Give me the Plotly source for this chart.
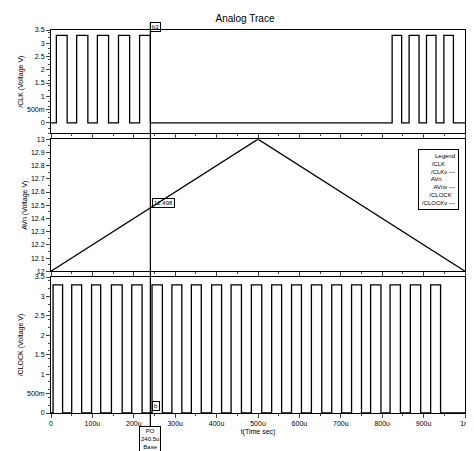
import plotly.graph_objects as go
from plotly.subplots import make_subplots

# Data (time in seconds)
clk_rise = [13e-6, 62e-6, 112e-6, 163e-6, 214e-6, 824e-6, 865e-6, 907e-6, 949e-6]
clk_fall = [39e-6, 89e-6, 139e-6, 190e-6, 240e-6, 847e-6, 889e-6, 930e-6, 972e-6]
clock_rise = [5e-6, 50e-6, 98e-6, 146e-6, 195e-6, 244e-6, 292e-6, 339e-6, 388e-6, 435e-6,
              484e-6, 533e-6, 581e-6, 629e-6, 678e-6, 726e-6, 772e-6, 819e-6, 868e-6, 917e-6]
clock_fall = [28e-6, 74e-6, 120e-6, 172e-6, 220e-6, 269e-6, 316e-6, 363e-6, 412e-6, 460e-6,
              509e-6, 557e-6, 605e-6, 654e-6, 702e-6, 750e-6, 797e-6, 844e-6, 893e-6, 941e-6]
vn_t = [0, 500e-6, 1e-3]
vn_v = [12.0, 13.0, 12.0]
high = 3.3
cursor_t = 240e-6

x_ticks = [0, 100e-6, 200e-6, 300e-6, 400e-6, 500e-6, 600e-6, 700e-6, 800e-6, 900e-6, 1e-3]
x_labels = ["0", "100u", "200u", "300u", "400u", "500u", "600u", "700u", "800u", "900u", "1m"]


def steps(rises, falls, level):
    xs, ys = [0], [0]
    for r, f in zip(rises, falls):
        xs += [r, r, f, f]
        ys += [0, level, level, 0]
    xs.append(1e-3)
    ys.append(0)
    return xs, ys


fig = make_subplots(rows=3, cols=1, shared_xaxes=True, vertical_spacing=0.01)
line = dict(color="black", width=1.3)

x1, y1 = steps(clk_rise, clk_fall, high)
fig.add_trace(go.Scatter(x=x1, y=y1, mode="lines", line=line), row=1, col=1)
fig.add_trace(go.Scatter(x=vn_t, y=vn_v, mode="lines", line=line), row=2, col=1)
x3, y3 = steps(clock_rise, clock_fall, high)
fig.add_trace(go.Scatter(x=x3, y=y3, mode="lines", line=line), row=3, col=1)

axis_font = dict(family="Liberation Sans", size=7, color="black")
for r in (1, 2, 3):
    fig.update_xaxes(range=[0, 1e-3], tickvals=x_ticks, ticktext=x_labels, showgrid=False,
                     zeroline=False, showline=True, linecolor="black", mirror=True,
                     ticks="outside", ticklen=4, minor=dict(ticks="outside", ticklen=2, nticks=5),
                     tickfont=axis_font, showticklabels=(r == 3), row=r, col=1)
fig.update_xaxes(title=dict(text="t(Time sec)", font=axis_font, standoff=2), row=3, col=1)

yk = dict(showgrid=False, zeroline=False, showline=True, linecolor="black", mirror=True,
          ticks="outside", ticklen=4, minor=dict(ticks="outside", ticklen=2, nticks=5),
          tickfont=axis_font)
fig.update_yaxes(range=[-0.4, 3.5], tickvals=[-0.5, 0, 0.5, 1, 1.5, 2, 2.5, 3, 3.5],
                 ticktext=["-500m", "0", "500m", "1", "1.5", "2", "2.5", "3", "3.5"],
                 title=dict(text="/CLK (Voltage V)", font=axis_font, standoff=2), row=1, col=1, **yk)
fig.update_yaxes(range=[12.0, 13.0], tickvals=[12.0 + i / 10 for i in range(11)],
                 ticktext=["12", "12.1", "12.2", "12.3", "12.4", "12.5", "12.6", "12.7", "12.8", "12.9", "13"],
                 title=dict(text="AVn (Voltage V)", font=axis_font, standoff=2), row=2, col=1, **yk)
fig.update_yaxes(range=[0, 3.5], tickvals=[0, 0.5, 1, 1.5, 2, 2.5, 3, 3.5],
                 ticktext=["0", "500m", "1", "1.5", "2", "2.5", "3", "3.5"],
                 title=dict(text="/CLOCK (Voltage V)", font=axis_font, standoff=2), row=3, col=1, **yk)

fig.update_layout(
    width=474, height=451, showlegend=False,
    plot_bgcolor="white", paper_bgcolor="white",
    margin=dict(l=37, r=12, t=22, b=46),
    title=dict(text="Analog Trace", x=0.5, y=0.985, font=dict(family="Liberation Sans", size=10, color="black")),
)
fig.update_layout(yaxis=dict(domain=[0.73, 1.0]), yaxis2=dict(domain=[0.37, 0.715]),
                  yaxis3=dict(domain=[0.0, 0.355]))

# cursor line across all panels
fig.add_shape(type="line", x0=cursor_t, x1=cursor_t, y0=-0.09, y1=1.02, xref="x", yref="paper",
              line=dict(color="black", width=1.2))
lbl = dict(family="Liberation Sans", size=6, color="black")
fig.add_annotation(x=cursor_t, y=1.02, xref="x", yref="paper", text="b3", showarrow=False,
                   xanchor="left", font=lbl, bordercolor="black", borderwidth=1, borderpad=1)
fig.add_annotation(x=cursor_t, y=12.48, xref="x2", yref="y2", text="12.498", showarrow=False,
                   xanchor="left", yanchor="bottom", xshift=2, font=lbl, bordercolor="black",
                   borderwidth=1, borderpad=1)
fig.add_annotation(x=cursor_t, y=0.05, xref="x3", yref="y3", text="b", showarrow=False,
                   xanchor="left", yanchor="bottom", xshift=2, font=lbl, bordercolor="black",
                   borderwidth=1, borderpad=1)
fig.add_annotation(x=cursor_t, y=-0.035, xref="x3", yref="paper", text="PO<br>240.5u<br>Base",
                   showarrow=False, yanchor="top", font=lbl, bordercolor="black", borderwidth=1,
                   borderpad=1, bgcolor="white")
fig.add_annotation(x=0.985, y=0.69, xref="paper", yref="paper", xanchor="right", yanchor="top",
                   text="Legend<br>/CLK      <br>/CLKv —<br>AVn        <br>AVnv —<br>/CLOCK  <br>/CLOCKv —",
                   showarrow=False, align="right", font=lbl, bordercolor="black", borderwidth=1,
                   borderpad=3, bgcolor="white")

fig.write_html("out.html")
